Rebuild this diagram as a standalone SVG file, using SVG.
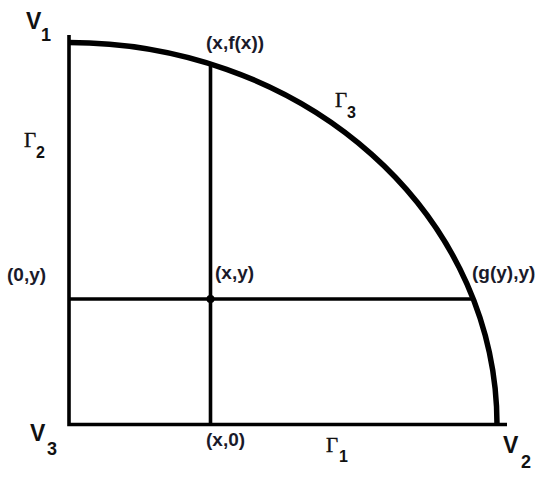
<svg xmlns="http://www.w3.org/2000/svg" width="550" height="481" viewBox="0 0 550 481">
<style>
.ln{fill:none;stroke:#000;stroke-width:3.6;stroke-linecap:butt}
.arc{fill:none;stroke:#000;stroke-width:5.5}
.lb{font-family:"Liberation Sans",Arial,sans-serif;font-size:19px;font-weight:bold;fill:#1a1a2a}
.v{font-family:"Liberation Sans",Arial,sans-serif;font-size:23px;font-weight:bold;fill:#111}
.g{font-family:"Liberation Serif","Times New Roman",serif;font-size:21px;fill:#111;stroke:#111;stroke-width:0.4}
.s{font-family:"Liberation Sans",Arial,sans-serif;font-size:18px;font-weight:bold;fill:#111}
.gs{font-family:"Liberation Sans",Arial,sans-serif;font-size:16px;font-weight:bold;fill:#111}
</style>
<rect width="550" height="481" fill="#fff"/>
<g id="connectors">
<path class="ln" d="M69 35 V424.5 H507"/>
<path class="ln" d="M210.5 64 V424.5"/>
<path class="ln" d="M69 299 H473"/>
<path class="arc" d="M69 42.5 A428 382 0 0 1 497 424.5"/>
<circle cx="210.5" cy="299" r="4" fill="#000"/>
</g>
<g id="V1"><text class="v" x="26" y="29">V</text><text class="s" x="41" y="41">1</text></g>
<g id="V2"><text class="v" x="503" y="453">V</text><text class="s" x="521" y="468">2</text></g>
<g id="V3"><text class="v" x="30" y="441">V</text><text class="s" x="47" y="455">3</text></g>
<g id="G1"><text class="g" x="326" y="452">Γ</text><text class="gs" x="339" y="462">1</text></g>
<g id="G2"><text class="g" x="24" y="147">Γ</text><text class="gs" x="36" y="158">2</text></g>
<g id="G3"><text class="g" x="335" y="107">Γ</text><text class="gs" x="347" y="118">3</text></g>
<g id="pxfx"><text class="lb" x="206" y="49">(x,f(x))</text></g>
<g id="pxy"><text class="lb" x="215" y="279">(x,y)</text></g>
<g id="p0y"><text class="lb" x="7" y="281">(0,y)</text></g>
<g id="pgy"><text class="lb" x="472" y="279">(g(y),y)</text></g>
<g id="px0"><text class="lb" x="206" y="446">(x,0)</text></g>
</svg>
